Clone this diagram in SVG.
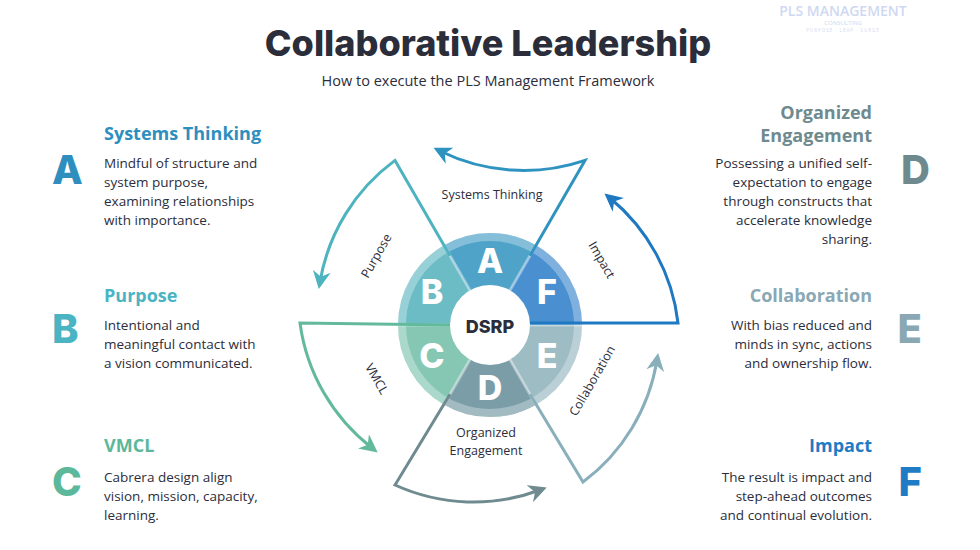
<svg xmlns="http://www.w3.org/2000/svg" width="980" height="550" viewBox="0 0 980 550">
<defs>
<style>
text{font-family:"Open Sans","Liberation Sans",sans-serif;}
.h{font-size:18px;font-weight:700;}
.b{font-size:13.5px;fill:#2b2d3a;}
.big{font-family:Inter,"Open Sans",sans-serif;font-size:40px;font-weight:800;}
.lab{font-size:12.5px;fill:#2b2d3a;}
.rl{font-family:Inter,"Open Sans",sans-serif;font-size:34px;font-weight:800;fill:#fff;text-anchor:middle;}
.arc{fill:none;stroke-width:3;}
</style>
<marker id="ah" viewBox="0 0 10 10" refX="6" refY="5" markerWidth="6" markerHeight="6" orient="auto-start-reverse" markerUnits="strokeWidth"><path d="M0,0 L10,5 L0,10 L3,5 Z" fill="context-stroke"/></marker>
</defs>
<rect width="980" height="550" fill="#fff"/>
<g id="logo" opacity="0.5">
<text x="843" y="16" text-anchor="middle" style="font-size:14px;font-weight:600;fill:#9fb3e6">PLS MANAGEMENT</text>
<text x="843" y="25" text-anchor="middle" style="font-size:6px;fill:#9fb3e6">CONSULTING</text>
<text x="843" y="32" text-anchor="middle" style="font-size:4.5px;fill:#9fb3e6;letter-spacing:1px">PURPOSE · LEAP · SURGE</text>
</g>
<g id="title">
<text x="488" y="56" text-anchor="middle" style="font-family:Inter,sans-serif;font-size:36px;font-weight:800;fill:#2b2d3a">Collaborative Leadership</text>
<text x="488" y="86" text-anchor="middle" style="font-size:14.5px;fill:#2b2d3a">How to execute the PLS Management Framework</text>
</g>
<g id="ring">
<path d="M490,325 L536,245.3 A92,92 0 0 0 444,245.3 Z" fill="#4fa3c8"/>
<path d="M490,325 L444,245.3 A92,92 0 0 0 398,325 Z" fill="#6cbcc6"/>
<path d="M490,325 L398,325 A92,92 0 0 0 444,404.7 Z" fill="#86c7b3"/>
<path d="M490,325 L444,404.7 A92,92 0 0 0 536,404.7 Z" fill="#7a9da7"/>
<path d="M490,325 L536,404.7 A92,92 0 0 0 582,325 Z" fill="#9dbcc4"/>
<path d="M490,325 L582,325 A92,92 0 0 0 536,245.3 Z" fill="#4a90d0"/>
<circle cx="490" cy="325" r="88" fill="none" stroke="#fff" stroke-opacity="0.3" stroke-width="8"/>
<g stroke="#fff" stroke-opacity="0.4" stroke-width="3">
<line x1="490" y1="325" x2="582" y2="325"/><line x1="490" y1="325" x2="398" y2="325"/>
<line x1="490" y1="325" x2="536" y2="245.3"/><line x1="490" y1="325" x2="444" y2="245.3"/>
<line x1="490" y1="325" x2="536" y2="404.7"/><line x1="490" y1="325" x2="444" y2="404.7"/>
</g>
<text class="rl" x="490" y="273">A</text>
<text class="rl" x="432" y="304">B</text>
<text class="rl" x="432" y="368">C</text>
<text class="rl" x="490" y="400">D</text>
<text class="rl" x="547" y="368">E</text>
<text class="rl" x="547" y="304">F</text>
<circle cx="490" cy="325" r="40" fill="#fff"/>
<text x="490" y="333" text-anchor="middle" style="font-family:Inter,sans-serif;font-size:18px;font-weight:800;fill:#2b2d3a">DSRP</text>
</g>
<g id="connectors">
<path class="arc" stroke="#2f93c0" d="M530,255.7 L585,160.4 A190,190 0 0 1 440,151" marker-end="url(#ah)"/>
<path class="arc" stroke="#4db3bf" d="M450,255.7 L395,160.4 A190,190 0 0 0 320,282" marker-end="url(#ah)"/>
<path class="arc" stroke="#62b99b" d="M450,325 L300,323 A190,190 0 0 0 372,448" marker-end="url(#ah)"/>
<path class="arc" stroke="#6f8b90" d="M450,394.3 L395,485 A190,190 0 0 0 540,490" marker-end="url(#ah)"/>
<path class="arc" stroke="#89afbb" d="M530,394.3 L583,482 A190,190 0 0 0 657,360" marker-end="url(#ah)"/>
<path class="arc" stroke="#1f78c2" d="M530,323 L678,323 A190,190 0 0 0 610,198" marker-end="url(#ah)"/>
</g>
<g id="sector-labels">
<text class="lab" x="492" y="199" text-anchor="middle">Systems Thinking</text>
<text class="lab" transform="translate(380,258) rotate(-60)" text-anchor="middle">Purpose</text>
<text class="lab" transform="translate(598,262) rotate(60)" text-anchor="middle">Impact</text>
<text class="lab" transform="translate(373,381) rotate(60)" text-anchor="middle">VMCL</text>
<text class="lab" transform="translate(596,383) rotate(-60)" text-anchor="middle">Collaboration</text>
<text class="lab" x="486" y="437" text-anchor="middle">Organized</text>
<text class="lab" x="486" y="455" text-anchor="middle">Engagement</text>
</g>
<g id="item-A">
<text class="big" x="52" y="184" fill="#2e8fbf">A</text>
<text class="h" x="104" y="140" fill="#2e8fbf">Systems Thinking</text>
<text class="b" x="104" y="168">Mindful of structure and</text>
<text class="b" x="104" y="187">system purpose,</text>
<text class="b" x="104" y="206">examining relationships</text>
<text class="b" x="104" y="225">with importance.</text>
</g>
<g id="item-B">
<text class="big" x="52" y="343" fill="#4ab4c3">B</text>
<text class="h" x="104" y="302" fill="#4ab4c3">Purpose</text>
<text class="b" x="104" y="330">Intentional and</text>
<text class="b" x="104" y="349">meaningful contact with</text>
<text class="b" x="104" y="368">a vision communicated.</text>
</g>
<g id="item-C">
<text class="big" x="52" y="496" fill="#5bb89a">C</text>
<text class="h" x="104" y="452" fill="#5bb89a">VMCL</text>
<text class="b" x="104" y="482">Cabrera design align</text>
<text class="b" x="104" y="501">vision, mission, capacity,</text>
<text class="b" x="104" y="520">learning.</text>
</g>
<g id="item-D" text-anchor="end">
<text class="big" x="930" y="184" fill="#6f8a8e">D</text>
<text class="h" x="872" y="119" fill="#6f8a8e">Organized</text>
<text class="h" x="872" y="142" fill="#6f8a8e">Engagement</text>
<text class="b" x="872" y="168">Possessing a unified self-</text>
<text class="b" x="872" y="187">expectation to engage</text>
<text class="b" x="872" y="206">through constructs that</text>
<text class="b" x="872" y="225">accelerate knowledge</text>
<text class="b" x="872" y="244">sharing.</text>
</g>
<g id="item-E" text-anchor="end">
<text class="big" x="922" y="343" fill="#8aa8b4">E</text>
<text class="h" x="872" y="302" fill="#8aa8b4">Collaboration</text>
<text class="b" x="872" y="330">With bias reduced and</text>
<text class="b" x="872" y="349">minds in sync, actions</text>
<text class="b" x="872" y="368">and ownership flow.</text>
</g>
<g id="item-F" text-anchor="end">
<text class="big" x="922" y="496" fill="#1e7bc4">F</text>
<text class="h" x="872" y="452" fill="#1e7bc4">Impact</text>
<text class="b" x="872" y="482">The result is impact and</text>
<text class="b" x="872" y="501">step-ahead outcomes</text>
<text class="b" x="872" y="520">and continual evolution.</text>
</g>
</svg>
